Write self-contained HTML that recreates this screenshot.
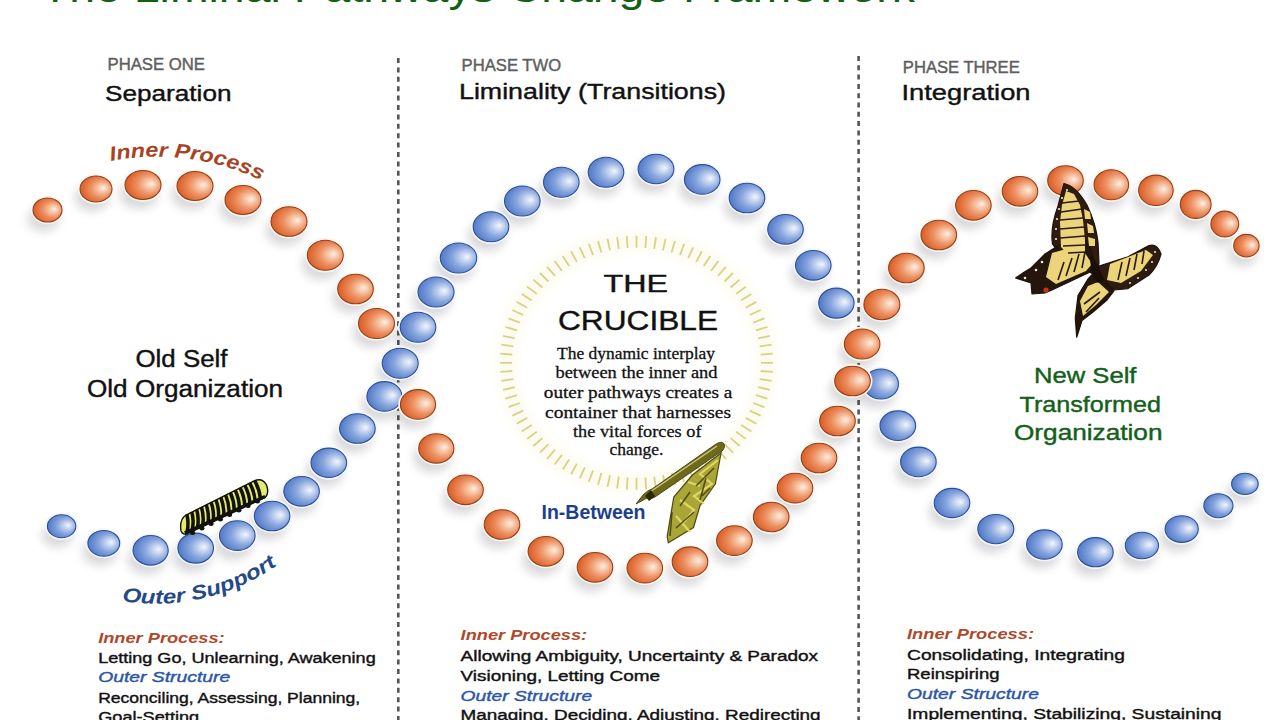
<!DOCTYPE html>
<html><head><meta charset="utf-8"><title>The Liminal Pathways Change Framework</title>
<style>html,body{margin:0;padding:0;background:#fff;overflow:hidden;width:1280px;height:720px}svg{display:block}</style></head><body>
<svg width="1280" height="720" viewBox="0 0 1280 720">
<defs>
<radialGradient id="og" cx="0.62" cy="0.5" r="0.68" fx="0.74" fy="0.46">
<stop offset="0" stop-color="#fdeee6"/><stop offset="0.2" stop-color="#f7c8aa"/><stop offset="0.5" stop-color="#ec9062"/><stop offset="0.8" stop-color="#e06a34"/><stop offset="1" stop-color="#d05c26"/></radialGradient>
<radialGradient id="bg" cx="0.62" cy="0.5" r="0.68" fx="0.74" fy="0.46">
<stop offset="0" stop-color="#f3f6fc"/><stop offset="0.2" stop-color="#c8d6f0"/><stop offset="0.5" stop-color="#88a6de"/><stop offset="0.8" stop-color="#5f85ce"/><stop offset="1" stop-color="#4e74c2"/></radialGradient>
<filter id="blur" x="-50%" y="-50%" width="200%" height="200%"><feGaussianBlur stdDeviation="5"/></filter>
<filter id="glow" x="-20%" y="-20%" width="140%" height="140%"><feGaussianBlur stdDeviation="6"/></filter>
<path id="ipath" d="M 106.00 162.13 A 240.4 240.4 0 0 1 300.00 204.00"/>
<path id="opath" d="M 122.00 601.13 A 213.1 213.1 0 0 0 320.00 525.46"/>
</defs>
<rect width="1280" height="720" fill="#fff"/>

<text x="41" y="1.8" font-family="Liberation Sans" font-size="40" fill="#0f620f" textLength="874" lengthAdjust="spacingAndGlyphs">The Liminal Pathways Change Framework</text>
<line x1="398.3" y1="58" x2="398.3" y2="720" stroke="#555" stroke-width="2.6" stroke-dasharray="5 4.4"/>
<line x1="858.6" y1="56" x2="858.6" y2="720" stroke="#555" stroke-width="2.6" stroke-dasharray="5 4.3"/>
<ellipse cx="636.5" cy="362.8" rx="130" ry="121" fill="none" stroke="#f8f3d0" stroke-width="18" filter="url(#glow)" opacity="0.4"/>
<path d="M761.0 362.8L773.0 362.8M760.7 371.0L772.7 371.9M759.7 379.2L771.6 380.9M758.2 387.2L769.9 389.8M756.0 395.2L767.5 398.6M753.2 403.0L764.4 407.2M749.7 410.6L760.7 415.6M745.8 417.9L756.3 423.7M741.2 425.0L751.3 431.5M736.2 431.7L745.8 438.9M730.6 438.1L739.7 446.0M724.5 444.1L733.0 452.6M718.0 449.7L725.9 458.8M711.1 454.9L718.3 464.5M703.8 459.5L710.3 469.6M696.2 463.7L701.9 474.3M688.2 467.4L693.2 478.3M680.0 470.5L684.2 481.8M671.6 473.1L675.0 484.7M663.0 475.2L665.5 486.9M654.2 476.6L655.9 488.5M645.4 477.5L646.2 489.5M636.5 477.8L636.5 489.8M627.6 477.5L626.8 489.5M618.8 476.6L617.1 488.5M610.0 475.2L607.5 486.9M601.4 473.1L598.0 484.7M593.0 470.5L588.8 481.8M584.8 467.4L579.8 478.3M576.8 463.7L571.1 474.3M569.2 459.5L562.7 469.6M561.9 454.9L554.7 464.5M555.0 449.7L547.1 458.8M548.5 444.1L540.0 452.6M542.4 438.1L533.3 446.0M536.8 431.7L527.2 438.9M531.8 425.0L521.7 431.5M527.2 417.9L516.7 423.7M523.3 410.6L512.3 415.6M519.8 403.0L508.6 407.2M517.0 395.2L505.5 398.6M514.8 387.2L503.1 389.8M513.3 379.2L501.4 380.9M512.3 371.0L500.3 371.9M512.0 362.8L500.0 362.8M512.3 354.6L500.3 353.7M513.3 346.4L501.4 344.7M514.8 338.4L503.1 335.8M517.0 330.4L505.5 327.0M519.8 322.6L508.6 318.4M523.3 315.0L512.3 310.0M527.2 307.7L516.7 301.9M531.8 300.6L521.7 294.1M536.8 293.9L527.2 286.7M542.4 287.5L533.3 279.6M548.5 281.5L540.0 273.0M555.0 275.9L547.1 266.8M561.9 270.7L554.7 261.1M569.2 266.1L562.7 256.0M576.8 261.9L571.1 251.3M584.8 258.2L579.8 247.3M593.0 255.1L588.8 243.8M601.4 252.5L598.0 240.9M610.0 250.4L607.5 238.7M618.8 249.0L617.1 237.1M627.6 248.1L626.8 236.1M636.5 247.8L636.5 235.8M645.4 248.1L646.2 236.1M654.2 249.0L655.9 237.1M663.0 250.4L665.5 238.7M671.6 252.5L675.0 240.9M680.0 255.1L684.2 243.8M688.2 258.2L693.2 247.3M696.2 261.9L701.9 251.3M703.8 266.1L710.3 256.0M711.1 270.7L718.3 261.1M718.0 275.9L725.9 266.8M724.5 281.5L733.0 273.0M730.6 287.5L739.7 279.6M736.2 293.9L745.8 286.7M741.2 300.6L751.3 294.1M745.8 307.7L756.3 301.9M749.7 315.0L760.7 310.0M753.2 322.6L764.4 318.4M756.0 330.4L767.5 327.0M758.2 338.4L769.9 335.8M759.7 346.4L771.6 344.7M760.7 354.6L772.7 353.7" stroke="#d9d18a" stroke-width="1.8" fill="none"/>
<g fill="#223" opacity="0.17" filter="url(#blur)"><ellipse cx="43.5" cy="219.0" rx="16.0" ry="12.5"/><ellipse cx="92.0" cy="198.0" rx="17.5" ry="13.5"/><ellipse cx="139.0" cy="194.0" rx="19.5" ry="15.0"/><ellipse cx="191.0" cy="195.0" rx="19.5" ry="15.0"/><ellipse cx="239.0" cy="209.0" rx="19.5" ry="15.0"/><ellipse cx="285.0" cy="230.5" rx="19.5" ry="15.3"/><ellipse cx="321.3" cy="264.3" rx="19.5" ry="15.5"/><ellipse cx="351.5" cy="298.0" rx="19.3" ry="15.3"/><ellipse cx="372.5" cy="332.5" rx="19.5" ry="15.5"/><ellipse cx="414.0" cy="413.4" rx="19.1" ry="15.3"/><ellipse cx="432.3" cy="457.4" rx="19.1" ry="15.2"/><ellipse cx="461.5" cy="498.8" rx="19.3" ry="15.3"/><ellipse cx="498.0" cy="533.5" rx="19.3" ry="15.3"/><ellipse cx="541.9" cy="560.3" rx="19.3" ry="15.3"/><ellipse cx="591.0" cy="576.3" rx="19.3" ry="15.3"/><ellipse cx="640.8" cy="577.1" rx="19.3" ry="15.3"/><ellipse cx="686.0" cy="570.7" rx="19.3" ry="15.3"/><ellipse cx="730.4" cy="549.6" rx="19.3" ry="15.3"/><ellipse cx="767.2" cy="526.0" rx="19.3" ry="15.3"/><ellipse cx="791.0" cy="497.1" rx="19.3" ry="15.3"/><ellipse cx="815.0" cy="467.0" rx="19.3" ry="15.3"/><ellipse cx="833.5" cy="430.0" rx="19.3" ry="15.3"/><ellipse cx="848.5" cy="390.0" rx="19.3" ry="15.3"/><ellipse cx="858.1" cy="353.0" rx="19.3" ry="15.5"/><ellipse cx="877.9" cy="313.5" rx="19.5" ry="15.7"/><ellipse cx="902.4" cy="277.0" rx="19.3" ry="15.3"/><ellipse cx="934.8" cy="244.0" rx="19.3" ry="15.3"/><ellipse cx="969.4" cy="214.3" rx="19.3" ry="15.3"/><ellipse cx="1016.0" cy="200.3" rx="19.3" ry="15.3"/><ellipse cx="1061.5" cy="189.5" rx="19.3" ry="15.3"/><ellipse cx="1107.3" cy="193.7" rx="18.8" ry="15.5"/><ellipse cx="1151.9" cy="199.3" rx="18.8" ry="15.7"/><ellipse cx="1191.7" cy="213.4" rx="16.9" ry="14.5"/><ellipse cx="1220.8" cy="233.0" rx="15.4" ry="13.4"/><ellipse cx="1242.4" cy="254.7" rx="14.2" ry="11.8"/><ellipse cx="57.6" cy="535.2" rx="15.7" ry="12.0"/><ellipse cx="99.8" cy="552.3" rx="17.4" ry="13.3"/><ellipse cx="146.6" cy="559.3" rx="19.1" ry="15.3"/><ellipse cx="191.7" cy="557.1" rx="19.3" ry="15.5"/><ellipse cx="233.3" cy="544.6" rx="19.3" ry="15.3"/><ellipse cx="268.1" cy="525.0" rx="19.3" ry="15.3"/><ellipse cx="297.6" cy="500.3" rx="19.3" ry="15.3"/><ellipse cx="324.8" cy="471.8" rx="19.3" ry="15.2"/><ellipse cx="353.4" cy="437.5" rx="19.3" ry="15.3"/><ellipse cx="380.4" cy="405.4" rx="19.0" ry="15.3"/><ellipse cx="396.2" cy="372.2" rx="19.5" ry="15.5"/><ellipse cx="414.0" cy="336.2" rx="19.3" ry="15.5"/><ellipse cx="432.0" cy="301.0" rx="19.5" ry="15.5"/><ellipse cx="454.5" cy="267.0" rx="19.7" ry="15.5"/><ellipse cx="487.0" cy="235.8" rx="19.3" ry="15.5"/><ellipse cx="518.3" cy="210.0" rx="19.3" ry="15.5"/><ellipse cx="557.3" cy="191.2" rx="19.3" ry="15.5"/><ellipse cx="602.0" cy="181.3" rx="19.3" ry="15.5"/><ellipse cx="652.0" cy="178.0" rx="19.4" ry="15.2"/><ellipse cx="698.2" cy="188.4" rx="19.3" ry="15.3"/><ellipse cx="743.0" cy="207.0" rx="19.3" ry="15.3"/><ellipse cx="781.5" cy="238.3" rx="19.3" ry="15.3"/><ellipse cx="809.3" cy="274.3" rx="19.3" ry="15.3"/><ellipse cx="832.4" cy="312.1" rx="19.2" ry="15.5"/><ellipse cx="877.0" cy="393.0" rx="19.0" ry="15.5"/><ellipse cx="893.8" cy="434.7" rx="19.3" ry="15.3"/><ellipse cx="914.4" cy="470.9" rx="19.3" ry="15.3"/><ellipse cx="948.0" cy="512.0" rx="19.3" ry="15.1"/><ellipse cx="991.8" cy="538.1" rx="19.5" ry="15.1"/><ellipse cx="1040.4" cy="553.5" rx="19.3" ry="15.1"/><ellipse cx="1091.4" cy="561.2" rx="19.3" ry="15.1"/><ellipse cx="1137.9" cy="554.5" rx="18.1" ry="13.8"/><ellipse cx="1177.7" cy="538.1" rx="18.1" ry="13.8"/><ellipse cx="1214.4" cy="514.7" rx="16.1" ry="12.5"/><ellipse cx="1240.9" cy="492.9" rx="14.8" ry="11.1"/></g>
<g><ellipse cx="61.6" cy="526.2" rx="16.4" ry="13.7" fill="#f3f7fd"/><ellipse cx="61.6" cy="526.2" rx="14.2" ry="11.5" fill="url(#bg)" stroke="#2f4f94" stroke-width="1.1"/><ellipse cx="103.8" cy="543.3" rx="18.1" ry="15.0" fill="#f3f7fd"/><ellipse cx="103.8" cy="543.3" rx="15.9" ry="12.8" fill="url(#bg)" stroke="#2f4f94" stroke-width="1.1"/><ellipse cx="150.6" cy="550.3" rx="19.8" ry="17.0" fill="#f3f7fd"/><ellipse cx="150.6" cy="550.3" rx="17.6" ry="14.8" fill="url(#bg)" stroke="#2f4f94" stroke-width="1.1"/><ellipse cx="195.7" cy="548.1" rx="20.0" ry="17.2" fill="#f3f7fd"/><ellipse cx="195.7" cy="548.1" rx="17.8" ry="15" fill="url(#bg)" stroke="#2f4f94" stroke-width="1.1"/><ellipse cx="237.3" cy="535.6" rx="20.0" ry="17.0" fill="#f3f7fd"/><ellipse cx="237.3" cy="535.6" rx="17.8" ry="14.8" fill="url(#bg)" stroke="#2f4f94" stroke-width="1.1"/><ellipse cx="272.1" cy="516" rx="20.0" ry="17.0" fill="#f3f7fd"/><ellipse cx="272.1" cy="516" rx="17.8" ry="14.8" fill="url(#bg)" stroke="#2f4f94" stroke-width="1.1"/><ellipse cx="301.6" cy="491.3" rx="20.0" ry="17.0" fill="#f3f7fd"/><ellipse cx="301.6" cy="491.3" rx="17.8" ry="14.8" fill="url(#bg)" stroke="#2f4f94" stroke-width="1.1"/><ellipse cx="328.8" cy="462.8" rx="20.0" ry="16.9" fill="#f3f7fd"/><ellipse cx="328.8" cy="462.8" rx="17.8" ry="14.7" fill="url(#bg)" stroke="#2f4f94" stroke-width="1.1"/><ellipse cx="357.4" cy="428.5" rx="20.0" ry="17.0" fill="#f3f7fd"/><ellipse cx="357.4" cy="428.5" rx="17.8" ry="14.8" fill="url(#bg)" stroke="#2f4f94" stroke-width="1.1"/><ellipse cx="384.4" cy="396.4" rx="19.7" ry="17.0" fill="#f3f7fd"/><ellipse cx="384.4" cy="396.4" rx="17.5" ry="14.8" fill="url(#bg)" stroke="#2f4f94" stroke-width="1.1"/><ellipse cx="400.2" cy="363.2" rx="20.2" ry="17.2" fill="#f3f7fd"/><ellipse cx="400.2" cy="363.2" rx="18" ry="15" fill="url(#bg)" stroke="#2f4f94" stroke-width="1.1"/><ellipse cx="418" cy="327.2" rx="20.0" ry="17.2" fill="#f3f7fd"/><ellipse cx="418" cy="327.2" rx="17.8" ry="15" fill="url(#bg)" stroke="#2f4f94" stroke-width="1.1"/><ellipse cx="436" cy="292" rx="20.2" ry="17.2" fill="#f3f7fd"/><ellipse cx="436" cy="292" rx="18" ry="15" fill="url(#bg)" stroke="#2f4f94" stroke-width="1.1"/><ellipse cx="458.5" cy="258" rx="20.4" ry="17.2" fill="#f3f7fd"/><ellipse cx="458.5" cy="258" rx="18.2" ry="15" fill="url(#bg)" stroke="#2f4f94" stroke-width="1.1"/><ellipse cx="491" cy="226.8" rx="20.0" ry="17.2" fill="#f3f7fd"/><ellipse cx="491" cy="226.8" rx="17.8" ry="15" fill="url(#bg)" stroke="#2f4f94" stroke-width="1.1"/><ellipse cx="522.3" cy="201" rx="20.0" ry="17.2" fill="#f3f7fd"/><ellipse cx="522.3" cy="201" rx="17.8" ry="15" fill="url(#bg)" stroke="#2f4f94" stroke-width="1.1"/><ellipse cx="561.3" cy="182.2" rx="20.0" ry="17.2" fill="#f3f7fd"/><ellipse cx="561.3" cy="182.2" rx="17.8" ry="15" fill="url(#bg)" stroke="#2f4f94" stroke-width="1.1"/><ellipse cx="606" cy="172.3" rx="20.0" ry="17.2" fill="#f3f7fd"/><ellipse cx="606" cy="172.3" rx="17.8" ry="15" fill="url(#bg)" stroke="#2f4f94" stroke-width="1.1"/><ellipse cx="656" cy="169" rx="20.1" ry="16.9" fill="#f3f7fd"/><ellipse cx="656" cy="169" rx="17.9" ry="14.7" fill="url(#bg)" stroke="#2f4f94" stroke-width="1.1"/><ellipse cx="702.2" cy="179.4" rx="20.0" ry="17.0" fill="#f3f7fd"/><ellipse cx="702.2" cy="179.4" rx="17.8" ry="14.8" fill="url(#bg)" stroke="#2f4f94" stroke-width="1.1"/><ellipse cx="747" cy="198" rx="20.0" ry="17.0" fill="#f3f7fd"/><ellipse cx="747" cy="198" rx="17.8" ry="14.8" fill="url(#bg)" stroke="#2f4f94" stroke-width="1.1"/><ellipse cx="785.5" cy="229.3" rx="20.0" ry="17.0" fill="#f3f7fd"/><ellipse cx="785.5" cy="229.3" rx="17.8" ry="14.8" fill="url(#bg)" stroke="#2f4f94" stroke-width="1.1"/><ellipse cx="813.3" cy="265.3" rx="20.0" ry="17.0" fill="#f3f7fd"/><ellipse cx="813.3" cy="265.3" rx="17.8" ry="14.8" fill="url(#bg)" stroke="#2f4f94" stroke-width="1.1"/><ellipse cx="836.4" cy="303.1" rx="19.9" ry="17.2" fill="#f3f7fd"/><ellipse cx="836.4" cy="303.1" rx="17.7" ry="15" fill="url(#bg)" stroke="#2f4f94" stroke-width="1.1"/><ellipse cx="881" cy="384" rx="19.7" ry="17.2" fill="#f3f7fd"/><ellipse cx="881" cy="384" rx="17.5" ry="15" fill="url(#bg)" stroke="#2f4f94" stroke-width="1.1"/><ellipse cx="897.8" cy="425.7" rx="20.0" ry="17.0" fill="#f3f7fd"/><ellipse cx="897.8" cy="425.7" rx="17.8" ry="14.8" fill="url(#bg)" stroke="#2f4f94" stroke-width="1.1"/><ellipse cx="918.4" cy="461.9" rx="20.0" ry="17.0" fill="#f3f7fd"/><ellipse cx="918.4" cy="461.9" rx="17.8" ry="14.8" fill="url(#bg)" stroke="#2f4f94" stroke-width="1.1"/><ellipse cx="952" cy="503" rx="20.0" ry="16.8" fill="#f3f7fd"/><ellipse cx="952" cy="503" rx="17.8" ry="14.6" fill="url(#bg)" stroke="#2f4f94" stroke-width="1.1"/><ellipse cx="995.8" cy="529.1" rx="20.2" ry="16.8" fill="#f3f7fd"/><ellipse cx="995.8" cy="529.1" rx="18" ry="14.6" fill="url(#bg)" stroke="#2f4f94" stroke-width="1.1"/><ellipse cx="1044.4" cy="544.5" rx="20.0" ry="16.8" fill="#f3f7fd"/><ellipse cx="1044.4" cy="544.5" rx="17.8" ry="14.6" fill="url(#bg)" stroke="#2f4f94" stroke-width="1.1"/><ellipse cx="1095.4" cy="552.2" rx="20.0" ry="16.8" fill="#f3f7fd"/><ellipse cx="1095.4" cy="552.2" rx="17.8" ry="14.6" fill="url(#bg)" stroke="#2f4f94" stroke-width="1.1"/><ellipse cx="1141.9" cy="545.5" rx="18.8" ry="15.5" fill="#f3f7fd"/><ellipse cx="1141.9" cy="545.5" rx="16.6" ry="13.3" fill="url(#bg)" stroke="#2f4f94" stroke-width="1.1"/><ellipse cx="1181.7" cy="529.1" rx="18.8" ry="15.5" fill="#f3f7fd"/><ellipse cx="1181.7" cy="529.1" rx="16.6" ry="13.3" fill="url(#bg)" stroke="#2f4f94" stroke-width="1.1"/><ellipse cx="1218.4" cy="505.7" rx="16.8" ry="14.2" fill="#f3f7fd"/><ellipse cx="1218.4" cy="505.7" rx="14.6" ry="12" fill="url(#bg)" stroke="#2f4f94" stroke-width="1.1"/><ellipse cx="1244.9" cy="483.9" rx="15.5" ry="12.8" fill="#f3f7fd"/><ellipse cx="1244.9" cy="483.9" rx="13.3" ry="10.6" fill="url(#bg)" stroke="#2f4f94" stroke-width="1.1"/></g>
<g><ellipse cx="47.5" cy="210" rx="16.7" ry="14.2" fill="#fff6ee"/><ellipse cx="47.5" cy="210" rx="14.5" ry="12" fill="url(#og)" stroke="#8e4220" stroke-width="1.1"/><ellipse cx="96" cy="189" rx="18.2" ry="15.2" fill="#fff6ee"/><ellipse cx="96" cy="189" rx="16" ry="13" fill="url(#og)" stroke="#8e4220" stroke-width="1.1"/><ellipse cx="143" cy="185" rx="20.2" ry="16.7" fill="#fff6ee"/><ellipse cx="143" cy="185" rx="18" ry="14.5" fill="url(#og)" stroke="#8e4220" stroke-width="1.1"/><ellipse cx="195" cy="186" rx="20.2" ry="16.7" fill="#fff6ee"/><ellipse cx="195" cy="186" rx="18" ry="14.5" fill="url(#og)" stroke="#8e4220" stroke-width="1.1"/><ellipse cx="243" cy="200" rx="20.2" ry="16.7" fill="#fff6ee"/><ellipse cx="243" cy="200" rx="18" ry="14.5" fill="url(#og)" stroke="#8e4220" stroke-width="1.1"/><ellipse cx="289" cy="221.5" rx="20.2" ry="17.0" fill="#fff6ee"/><ellipse cx="289" cy="221.5" rx="18" ry="14.8" fill="url(#og)" stroke="#8e4220" stroke-width="1.1"/><ellipse cx="325.3" cy="255.3" rx="20.2" ry="17.2" fill="#fff6ee"/><ellipse cx="325.3" cy="255.3" rx="18" ry="15" fill="url(#og)" stroke="#8e4220" stroke-width="1.1"/><ellipse cx="355.5" cy="289" rx="20.0" ry="17.0" fill="#fff6ee"/><ellipse cx="355.5" cy="289" rx="17.8" ry="14.8" fill="url(#og)" stroke="#8e4220" stroke-width="1.1"/><ellipse cx="376.5" cy="323.5" rx="20.2" ry="17.2" fill="#fff6ee"/><ellipse cx="376.5" cy="323.5" rx="18" ry="15" fill="url(#og)" stroke="#8e4220" stroke-width="1.1"/><ellipse cx="418" cy="404.4" rx="19.8" ry="17.0" fill="#fff6ee"/><ellipse cx="418" cy="404.4" rx="17.6" ry="14.8" fill="url(#og)" stroke="#8e4220" stroke-width="1.1"/><ellipse cx="436.3" cy="448.4" rx="19.8" ry="16.9" fill="#fff6ee"/><ellipse cx="436.3" cy="448.4" rx="17.6" ry="14.7" fill="url(#og)" stroke="#8e4220" stroke-width="1.1"/><ellipse cx="465.5" cy="489.8" rx="20.0" ry="17.0" fill="#fff6ee"/><ellipse cx="465.5" cy="489.8" rx="17.8" ry="14.8" fill="url(#og)" stroke="#8e4220" stroke-width="1.1"/><ellipse cx="502" cy="524.5" rx="20.0" ry="17.0" fill="#fff6ee"/><ellipse cx="502" cy="524.5" rx="17.8" ry="14.8" fill="url(#og)" stroke="#8e4220" stroke-width="1.1"/><ellipse cx="545.9" cy="551.3" rx="20.0" ry="17.0" fill="#fff6ee"/><ellipse cx="545.9" cy="551.3" rx="17.8" ry="14.8" fill="url(#og)" stroke="#8e4220" stroke-width="1.1"/><ellipse cx="595" cy="567.3" rx="20.0" ry="17.0" fill="#fff6ee"/><ellipse cx="595" cy="567.3" rx="17.8" ry="14.8" fill="url(#og)" stroke="#8e4220" stroke-width="1.1"/><ellipse cx="644.8" cy="568.1" rx="20.0" ry="17.0" fill="#fff6ee"/><ellipse cx="644.8" cy="568.1" rx="17.8" ry="14.8" fill="url(#og)" stroke="#8e4220" stroke-width="1.1"/><ellipse cx="690" cy="561.7" rx="20.0" ry="17.0" fill="#fff6ee"/><ellipse cx="690" cy="561.7" rx="17.8" ry="14.8" fill="url(#og)" stroke="#8e4220" stroke-width="1.1"/><ellipse cx="734.4" cy="540.6" rx="20.0" ry="17.0" fill="#fff6ee"/><ellipse cx="734.4" cy="540.6" rx="17.8" ry="14.8" fill="url(#og)" stroke="#8e4220" stroke-width="1.1"/><ellipse cx="771.2" cy="517" rx="20.0" ry="17.0" fill="#fff6ee"/><ellipse cx="771.2" cy="517" rx="17.8" ry="14.8" fill="url(#og)" stroke="#8e4220" stroke-width="1.1"/><ellipse cx="795" cy="488.1" rx="20.0" ry="17.0" fill="#fff6ee"/><ellipse cx="795" cy="488.1" rx="17.8" ry="14.8" fill="url(#og)" stroke="#8e4220" stroke-width="1.1"/><ellipse cx="819" cy="458" rx="20.0" ry="17.0" fill="#fff6ee"/><ellipse cx="819" cy="458" rx="17.8" ry="14.8" fill="url(#og)" stroke="#8e4220" stroke-width="1.1"/><ellipse cx="837.5" cy="421" rx="20.0" ry="17.0" fill="#fff6ee"/><ellipse cx="837.5" cy="421" rx="17.8" ry="14.8" fill="url(#og)" stroke="#8e4220" stroke-width="1.1"/><ellipse cx="852.5" cy="381" rx="20.0" ry="17.0" fill="#fff6ee"/><ellipse cx="852.5" cy="381" rx="17.8" ry="14.8" fill="url(#og)" stroke="#8e4220" stroke-width="1.1"/><ellipse cx="862.1" cy="344" rx="20.0" ry="17.2" fill="#fff6ee"/><ellipse cx="862.1" cy="344" rx="17.8" ry="15" fill="url(#og)" stroke="#8e4220" stroke-width="1.1"/><ellipse cx="881.9" cy="304.5" rx="20.2" ry="17.4" fill="#fff6ee"/><ellipse cx="881.9" cy="304.5" rx="18" ry="15.2" fill="url(#og)" stroke="#8e4220" stroke-width="1.1"/><ellipse cx="906.4" cy="268" rx="20.0" ry="17.0" fill="#fff6ee"/><ellipse cx="906.4" cy="268" rx="17.8" ry="14.8" fill="url(#og)" stroke="#8e4220" stroke-width="1.1"/><ellipse cx="938.8" cy="235" rx="20.0" ry="17.0" fill="#fff6ee"/><ellipse cx="938.8" cy="235" rx="17.8" ry="14.8" fill="url(#og)" stroke="#8e4220" stroke-width="1.1"/><ellipse cx="973.4" cy="205.3" rx="20.0" ry="17.0" fill="#fff6ee"/><ellipse cx="973.4" cy="205.3" rx="17.8" ry="14.8" fill="url(#og)" stroke="#8e4220" stroke-width="1.1"/><ellipse cx="1020" cy="191.3" rx="20.0" ry="17.0" fill="#fff6ee"/><ellipse cx="1020" cy="191.3" rx="17.8" ry="14.8" fill="url(#og)" stroke="#8e4220" stroke-width="1.1"/><ellipse cx="1065.5" cy="180.5" rx="20.0" ry="17.0" fill="#fff6ee"/><ellipse cx="1065.5" cy="180.5" rx="17.8" ry="14.8" fill="url(#og)" stroke="#8e4220" stroke-width="1.1"/><ellipse cx="1111.3" cy="184.7" rx="19.5" ry="17.2" fill="#fff6ee"/><ellipse cx="1111.3" cy="184.7" rx="17.3" ry="15" fill="url(#og)" stroke="#8e4220" stroke-width="1.1"/><ellipse cx="1155.9" cy="190.3" rx="19.5" ry="17.4" fill="#fff6ee"/><ellipse cx="1155.9" cy="190.3" rx="17.3" ry="15.2" fill="url(#og)" stroke="#8e4220" stroke-width="1.1"/><ellipse cx="1195.7" cy="204.4" rx="17.6" ry="16.2" fill="#fff6ee"/><ellipse cx="1195.7" cy="204.4" rx="15.4" ry="14" fill="url(#og)" stroke="#8e4220" stroke-width="1.1"/><ellipse cx="1224.8" cy="224" rx="16.1" ry="15.1" fill="#fff6ee"/><ellipse cx="1224.8" cy="224" rx="13.9" ry="12.9" fill="url(#og)" stroke="#8e4220" stroke-width="1.1"/><ellipse cx="1246.4" cy="245.7" rx="14.9" ry="13.5" fill="#fff6ee"/><ellipse cx="1246.4" cy="245.7" rx="12.7" ry="11.3" fill="url(#og)" stroke="#8e4220" stroke-width="1.1"/></g>
<text x="107.5" y="70" font-family="Liberation Sans" font-size="16" fill="#5e5e5e" stroke="#5e5e5e" stroke-width="0.4" textLength="97.5" lengthAdjust="spacingAndGlyphs" >PHASE ONE</text>
<text x="105" y="100.5" font-family="Liberation Sans" font-size="22.6" fill="#111" stroke="#111" stroke-width="0.4" textLength="126.5" lengthAdjust="spacingAndGlyphs" >Separation</text>
<text x="461.6" y="70.8" font-family="Liberation Sans" font-size="16" fill="#5e5e5e" stroke="#5e5e5e" stroke-width="0.4" textLength="99.5" lengthAdjust="spacingAndGlyphs" >PHASE TWO</text>
<text x="459" y="99.4" font-family="Liberation Sans" font-size="22.3" fill="#111" stroke="#111" stroke-width="0.4" textLength="267" lengthAdjust="spacingAndGlyphs" >Liminality (Transitions)</text>
<text x="902.8" y="73.1" font-family="Liberation Sans" font-size="16" fill="#5e5e5e" stroke="#5e5e5e" stroke-width="0.4" textLength="117" lengthAdjust="spacingAndGlyphs" >PHASE THREE</text>
<text x="901.5" y="99.7" font-family="Liberation Sans" font-size="22.5" fill="#111" stroke="#111" stroke-width="0.4" textLength="129" lengthAdjust="spacingAndGlyphs" >Integration</text>
<text x="135.5" y="367.3" font-family="Liberation Sans" font-size="23.5" fill="#111" stroke="#111" stroke-width="0.4" textLength="92" lengthAdjust="spacingAndGlyphs" >Old Self</text>
<text x="87" y="397.2" font-family="Liberation Sans" font-size="23" fill="#111" stroke="#111" stroke-width="0.4" textLength="196" lengthAdjust="spacingAndGlyphs" >Old Organization</text>
<text x="1034" y="383.1" font-family="Liberation Sans" font-size="22" fill="#12601a" stroke="#12601a" stroke-width="0.4" textLength="102.5" lengthAdjust="spacingAndGlyphs" >New Self</text>
<text x="1019.5" y="412" font-family="Liberation Sans" font-size="22" fill="#12601a" stroke="#12601a" stroke-width="0.4" textLength="141.5" lengthAdjust="spacingAndGlyphs" >Transformed</text>
<text x="1014" y="440.1" font-family="Liberation Sans" font-size="22" fill="#12601a" stroke="#12601a" stroke-width="0.4" textLength="148.5" lengthAdjust="spacingAndGlyphs" >Organization</text>
<text x="541.5" y="518.8" font-family="Liberation Sans" font-size="20" fill="#1b3f8e" textLength="104" lengthAdjust="spacingAndGlyphs" font-weight="bold">In-Between</text>
<text font-family="Liberation Sans" font-size="20" font-weight="bold" font-style="italic" fill="#a9431f"><textPath href="#ipath" startOffset="5" textLength="154" lengthAdjust="spacingAndGlyphs">Inner Process</textPath></text>
<text font-family="Liberation Sans" font-size="20" font-weight="bold" font-style="italic" fill="#244a88"><textPath href="#opath" startOffset="0" textLength="163" lengthAdjust="spacingAndGlyphs">Outer Support</textPath></text>
<text x="603.5" y="292.1" font-size="24.5" fill="#111" stroke="#111" stroke-width="0.4" textLength="64.5" lengthAdjust="spacingAndGlyphs" font-family="Liberation Sans" stroke="#fff" stroke-width="0.5">THE</text>
<text x="558" y="330" font-size="27" fill="#111" stroke="#111" stroke-width="0.4" textLength="160" lengthAdjust="spacingAndGlyphs" font-family="Liberation Sans" stroke="#fff" stroke-width="0.5">CRUCIBLE</text>
<text x="557" y="359.2" font-size="17.5" fill="#111" textLength="158" lengthAdjust="spacingAndGlyphs" font-family="Liberation Serif" stroke="#111" stroke-width="0.3">The dynamic interplay</text>
<text x="555.5" y="377.5" font-size="17.5" fill="#111" textLength="162" lengthAdjust="spacingAndGlyphs" font-family="Liberation Serif" stroke="#111" stroke-width="0.3">between the inner and</text>
<text x="543.8" y="397.5" font-size="17.5" fill="#111" textLength="188.5" lengthAdjust="spacingAndGlyphs" font-family="Liberation Serif" stroke="#111" stroke-width="0.3">outer pathways creates a</text>
<text x="545" y="417.6" font-size="17.5" fill="#111" textLength="186" lengthAdjust="spacingAndGlyphs" font-family="Liberation Serif" stroke="#111" stroke-width="0.3">container that harnesses</text>
<text x="573" y="436.5" font-size="17.5" fill="#111" textLength="128.5" lengthAdjust="spacingAndGlyphs" font-family="Liberation Serif" stroke="#111" stroke-width="0.3">the vital forces of</text>
<text x="609.5" y="454.5" font-size="17.5" fill="#111" textLength="54" lengthAdjust="spacingAndGlyphs" font-family="Liberation Serif" stroke="#111" stroke-width="0.3">change.</text>
<text x="98.2" y="642.7" font-family="Liberation Sans" font-size="15" fill="#b0482a" textLength="126.5" lengthAdjust="spacingAndGlyphs" font-weight="bold" font-style="italic">Inner Process:</text><text x="98.2" y="662.7" font-family="Liberation Sans" font-size="15.5" fill="#111" stroke="#111" stroke-width="0.4" textLength="277.5" lengthAdjust="spacingAndGlyphs" >Letting Go, Unlearning, Awakening</text><text x="98.2" y="682.1" font-family="Liberation Sans" font-size="15.5" fill="#2b56a6" stroke="#2b56a6" stroke-width="0.4" textLength="132" lengthAdjust="spacingAndGlyphs" font-style="italic">Outer Structure</text><text x="98.2" y="703.2" font-family="Liberation Sans" font-size="15.5" fill="#111" stroke="#111" stroke-width="0.4" textLength="262" lengthAdjust="spacingAndGlyphs" >Reconciling, Assessing, Planning,</text><text x="98.2" y="721.5" font-family="Liberation Sans" font-size="15.5" fill="#111" stroke="#111" stroke-width="0.4" textLength="101" lengthAdjust="spacingAndGlyphs" >Goal-Setting</text>
<text x="460.6" y="640.2" font-family="Liberation Sans" font-size="15" fill="#b0482a" textLength="126.5" lengthAdjust="spacingAndGlyphs" font-weight="bold" font-style="italic">Inner Process:</text><text x="460.6" y="661" font-family="Liberation Sans" font-size="15.5" fill="#111" stroke="#111" stroke-width="0.4" textLength="357.5" lengthAdjust="spacingAndGlyphs" >Allowing Ambiguity, Uncertainty &amp; Paradox</text><text x="460.6" y="680.9" font-family="Liberation Sans" font-size="15.5" fill="#111" stroke="#111" stroke-width="0.4" textLength="199.5" lengthAdjust="spacingAndGlyphs" >Visioning, Letting Come</text><text x="460.6" y="700.5" font-family="Liberation Sans" font-size="15.5" fill="#2b56a6" stroke="#2b56a6" stroke-width="0.4" textLength="131.5" lengthAdjust="spacingAndGlyphs" font-style="italic">Outer Structure</text><text x="460.6" y="720.2" font-family="Liberation Sans" font-size="15.5" fill="#111" stroke="#111" stroke-width="0.4" textLength="360" lengthAdjust="spacingAndGlyphs" >Managing, Deciding, Adjusting, Redirecting</text>
<text x="907" y="638.9" font-family="Liberation Sans" font-size="15" fill="#b0482a" textLength="127" lengthAdjust="spacingAndGlyphs" font-weight="bold" font-style="italic">Inner Process:</text><text x="907" y="660.2" font-family="Liberation Sans" font-size="15.5" fill="#111" stroke="#111" stroke-width="0.4" textLength="218" lengthAdjust="spacingAndGlyphs" >Consolidating, Integrating</text><text x="907" y="679.3" font-family="Liberation Sans" font-size="15.5" fill="#111" stroke="#111" stroke-width="0.4" textLength="92.5" lengthAdjust="spacingAndGlyphs" >Reinspiring</text><text x="907" y="698.7" font-family="Liberation Sans" font-size="15.5" fill="#2b56a6" stroke="#2b56a6" stroke-width="0.4" textLength="132" lengthAdjust="spacingAndGlyphs" font-style="italic">Outer Structure</text><text x="907" y="718.5" font-family="Liberation Sans" font-size="15.5" fill="#111" stroke="#111" stroke-width="0.4" textLength="314.5" lengthAdjust="spacingAndGlyphs" >Implementing, Stabilizing, Sustaining</text>
<path d="M180.7 528.4 Q180 519 186 515 L254.6 480.7 Q262.5 477.5 266.5 485 Q269.5 493 265.3 497.5 L186 534.2 Q180.5 534 180.7 528.4 Z" fill="#e4ea6c" stroke="#12120a" stroke-width="1.4"/><path d="M186.9 514.3 Q189.0 523.0 187.1 531.8" stroke="#12120a" stroke-width="3.5" fill="none"/><path d="M191.8 511.9 Q194.1 520.6 192.3 529.4" stroke="#12120a" stroke-width="3.5" fill="none"/><path d="M196.6 509.5 Q199.1 518.2 197.6 527.0" stroke="#12120a" stroke-width="3.5" fill="none"/><path d="M201.4 507.1 Q204.1 515.9 202.8 524.6" stroke="#12120a" stroke-width="3.5" fill="none"/><path d="M206.2 504.7 Q209.2 513.5 208.1 522.2" stroke="#12120a" stroke-width="3.5" fill="none"/><path d="M211.1 502.3 Q214.2 511.0 213.3 519.8" stroke="#12120a" stroke-width="3.5" fill="none"/><path d="M215.9 499.9 Q219.2 508.6 218.5 517.4" stroke="#12120a" stroke-width="3.5" fill="none"/><path d="M220.8 497.5 Q224.2 506.2 223.8 515.0" stroke="#12120a" stroke-width="3.5" fill="none"/><path d="M225.6 495.1 Q229.3 503.9 229.0 512.6" stroke="#12120a" stroke-width="3.5" fill="none"/><path d="M230.4 492.7 Q234.3 501.4 234.2 510.2" stroke="#12120a" stroke-width="3.5" fill="none"/><path d="M235.2 490.3 Q239.3 499.1 239.4 507.8" stroke="#12120a" stroke-width="3.5" fill="none"/><path d="M240.1 487.9 Q244.4 496.6 244.7 505.4" stroke="#12120a" stroke-width="3.5" fill="none"/><path d="M244.9 485.5 Q249.4 494.2 249.9 503.0" stroke="#12120a" stroke-width="3.5" fill="none"/><path d="M249.8 483.1 Q254.4 491.9 255.1 500.6" stroke="#12120a" stroke-width="3.5" fill="none"/><path d="M254.6 480.7 Q259.5 489.4 260.4 498.2" stroke="#12120a" stroke-width="3.5" fill="none"/><path d="M184 531.5 L264.5 495 L265.5 498 L186 534.5 Z" fill="#12120a"/><ellipse cx="192.6" cy="532.8" rx="2.6" ry="2.2" fill="#12120a"/><ellipse cx="201.9" cy="528.2" rx="2.6" ry="2.2" fill="#12120a"/><ellipse cx="211.1" cy="523.8" rx="2.6" ry="2.2" fill="#12120a"/><ellipse cx="220.4" cy="519.2" rx="2.6" ry="2.2" fill="#12120a"/><ellipse cx="229.6" cy="514.8" rx="2.6" ry="2.2" fill="#12120a"/><ellipse cx="238.9" cy="510.2" rx="2.6" ry="2.2" fill="#12120a"/><ellipse cx="248.1" cy="505.8" rx="2.6" ry="2.2" fill="#12120a"/><ellipse cx="257.4" cy="501.2" rx="2.6" ry="2.2" fill="#12120a"/>
<path d="M636 504 L643 495 Q648 490 652 489 L716 444 Q723 440 724.5 445 Q725 450 719 453 L655 497 Q650 500 647 498 Z" fill="#6e6a1c" stroke="#34320a" stroke-width="0.8"/>
<path d="M650 492 L717 446" stroke="#e2d88a" stroke-width="1.3" opacity="0.85"/>
<path d="M645 496 L651 490 L655 496 L649 501 Z" fill="#2a2806"/>
<path d="M721 453 L692.4 475 L673.8 497 L667.2 536.3 L668.3 542.8 L693.5 527.5 L700 505.6 L715.4 483.8 Z" fill="#aaa636" stroke="#4e4a12" stroke-width="1.2"/>
<path d="M718 460 L700 474 L712 484 L694 496 L704 504 M688 482 L700 486 M680 500 L694 510 L684 522 M676 516 L690 532" stroke="#e4dc6a" stroke-width="2.2" fill="none" opacity="0.9"/>
<path d="M714 468 L696 486 M706 478 L700 500 M690 492 L680 506 M694 512 L676 528 M672 512 L670 536 M710 488 L702 496" stroke="#3e3a0c" stroke-width="1.5" fill="none" opacity="0.85"/>
<g stroke="#1e120a" stroke-width="1.2" stroke-linejoin="round">
<path d="M1064 183.5 Q1076 186 1087 205 Q1096 224 1098 242 L1099 263 L1097 277 L1068 257 Q1056 250 1052.5 244 Q1050 228 1058 206 Z" fill="#2e1c10"/>
<path d="M1015.6 278 Q1024 272 1031 268 L1045 254 L1056 247 L1063 243 L1088 240 L1096 268 L1088 273 L1052 290 L1045 293 L1032 294 L1031 283 Z" fill="#24160c"/>
<path d="M1099 266 L1128 256.7 L1149 245.6 Q1157 243 1161 254 Q1158 266 1149 275 L1128 288.6 L1114 290 L1096 279 Z" fill="#2e1c10"/>
<path d="M1096 270.6 L1114 291 L1107 300 L1093 312 L1082 320.6 L1076.7 337.2 L1075.3 318 L1078 295.6 L1088 279 Z" fill="#24160c"/>
</g>
<g fill="#ecd47a">
<path d="M1066 191 L1074 194 L1080 205 L1083 220 L1085 240 L1085 259 L1071 258 L1061 247 L1060 222 L1062 205 Z"/>
<path d="M1084 209 L1090 212 L1091 219 L1085 219 Z M1087 223 L1093 226 L1094 233 L1088 233 Z M1088 237 L1095 239 L1095 246 L1089 246 Z"/>
<path d="M1052 253 L1080 245 L1092 264 L1086 271 L1056 284 L1046 277 Z"/>
<path d="M1110 264 L1146 250 L1153 255 L1141 271 L1121 283 L1107 280 Z"/>
<path d="M1098 282 L1109 292 L1096 305 L1083 316 L1080 301 L1088 286 Z"/>
</g>
<g stroke="#2a1a0e" stroke-width="1.6">
<path d="M1062 203 L1079 201 M1061 212 L1082 209 M1060 220 L1083 218 M1060 229 L1084 227 M1060 238 L1085 236 M1063 246 L1085 245 M1068 253 L1086 252"/>
<path d="M1058 280 L1064 262 M1066 276 L1072 258 M1074 272 L1079 254 M1082 268 L1085 252"/>
<path d="M1118 280 L1122 262 M1126 276 L1130 258 M1134 270 L1137 254 M1142 264 L1144 251"/>
<path d="M1086 312 L1099 298 M1084 304 L1100 292"/>
</g>
<g fill="#f2eccc">
<circle cx="1059" cy="209" r="1.1"/><circle cx="1057" cy="219" r="1.1"/><circle cx="1056" cy="229" r="1.1"/><circle cx="1056" cy="239" r="1.1"/><circle cx="1067" cy="190" r="1.1"/><circle cx="1062" cy="198" r="1.1"/>
<circle cx="1155" cy="252" r="1"/><circle cx="1152" cy="262" r="1"/><circle cx="1146" cy="270" r="1"/><circle cx="1138" cy="278" r="1"/><circle cx="1130" cy="283" r="1"/>
<circle cx="1025" cy="278" r="1.3"/><circle cx="1036" cy="270" r="1.3"/><circle cx="1042" cy="262" r="1.3"/>
</g>
<circle cx="1046" cy="290" r="2.6" fill="#c8301c"/>
<path d="M1090 256 Q1096 258 1104 280 Q1100 284 1096 282 Q1090 270 1090 256 Z" fill="#1a0f08"/>
</svg></body></html>
